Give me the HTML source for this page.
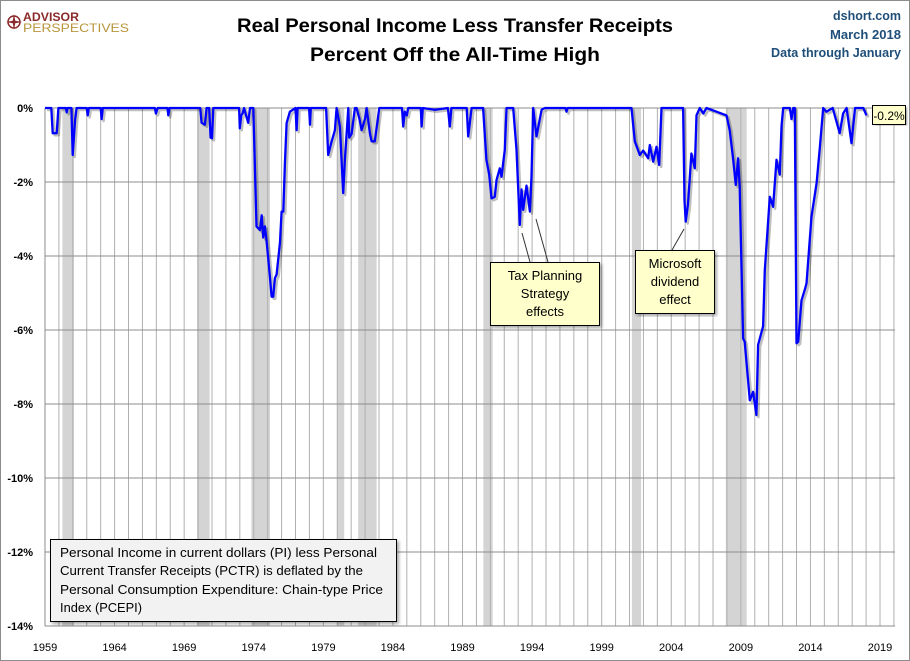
<!DOCTYPE html>
<html><head><meta charset="utf-8"><style>
body{margin:0;background:#fff;}
svg{display:block;font-family:"Liberation Sans",sans-serif;}
</style></head><body>
<svg id="chart" width="910" height="661" viewBox="0 0 910 661" xmlns="http://www.w3.org/2000/svg">
<defs>
<filter id="sh" x="-5%" y="-5%" width="110%" height="110%"><feGaussianBlur in="SourceAlpha" stdDeviation="1.5"/><feOffset dx="2" dy="2"/><feComponentTransfer><feFuncA type="linear" slope="0.35"/></feComponentTransfer><feMerge><feMergeNode/><feMergeNode in="SourceGraphic"/></feMerge></filter>
</defs>
<rect x="0.5" y="0.5" width="909" height="660" fill="#fff" stroke="#8c8c8c"/>
<g>
<circle cx="14" cy="22" r="6" fill="none" stroke="#8b2a2a" stroke-width="1.5"/>
<path d="M14 14 L15.5 22 L14 30 L12.5 22 Z M6 22 L14 20.5 L22 22 L14 23.5Z" fill="#8b2a2a"/>
<text x="23" y="21" font-size="12" font-weight="bold" fill="#8b2a2a" textLength="56" lengthAdjust="spacingAndGlyphs">ADVISOR</text>
<text x="23" y="32" font-size="12" fill="#b8963c" textLength="106" lengthAdjust="spacingAndGlyphs">PERSPECTIVES</text>
</g>
<text x="455" y="32" text-anchor="middle" font-size="19" font-weight="bold" textLength="436" lengthAdjust="spacingAndGlyphs">Real Personal Income Less Transfer Receipts</text>
<text x="455" y="61" text-anchor="middle" font-size="19" font-weight="bold" textLength="290" lengthAdjust="spacingAndGlyphs">Percent Off the All-Time High</text>
<g fill="#1f4e79" font-size="13" font-weight="bold" text-anchor="end">
<text x="901" y="20" textLength="68" lengthAdjust="spacingAndGlyphs">dshort.com</text>
<text x="901" y="39" textLength="71" lengthAdjust="spacingAndGlyphs">March 2018</text>
<text x="901" y="57" textLength="130" lengthAdjust="spacingAndGlyphs">Data through January</text>
</g>
<g id="plot"></g>
<g>
<line x1="522" y1="233" x2="530" y2="262" stroke="#333"/>
<line x1="536" y1="219" x2="548" y2="262" stroke="#333"/>
<rect x="490.5" y="262.5" width="109" height="63" fill="#ffffcc" stroke="#000" filter="url(#sh)"/>
<g font-size="13" text-anchor="middle" fill="#000">
<text x="545" y="280">Tax Planning</text><text x="545" y="298">Strategy</text><text x="545" y="316">effects</text></g>
</g>
<g>
<line x1="684" y1="229" x2="672" y2="250" stroke="#333"/>
<rect x="635.5" y="250.5" width="79" height="63" fill="#ffffcc" stroke="#000" filter="url(#sh)"/>
<g font-size="13" text-anchor="middle" fill="#000">
<text x="675" y="268">Microsoft</text><text x="675" y="286">dividend</text><text x="675" y="304">effect</text></g>
</g>
<g>
<rect x="872.5" y="105.5" width="33" height="19" fill="#ffffcc" stroke="#000" filter="url(#sh)"/>
<text x="889" y="120" font-size="12" text-anchor="middle">-0.2%</text>
</g>
<g>
<rect x="50.5" y="539.5" width="346" height="82" fill="#f2f2f2" stroke="#000" filter="url(#sh)"/>
<g font-size="12.5" fill="#000">
<text x="60" y="557" textLength="317" lengthAdjust="spacingAndGlyphs">Personal Income in current dollars  (PI) less Personal</text>
<text x="60" y="575" textLength="303" lengthAdjust="spacingAndGlyphs">Current Transfer Receipts (PCTR) is deflated by the</text>
<text x="60" y="594" textLength="323" lengthAdjust="spacingAndGlyphs">Personal Consumption Expenditure: Chain-type Price</text>
<text x="60" y="612" textLength="82" lengthAdjust="spacingAndGlyphs">Index (PCEPI)</text>
</g></g>
</svg>
<script>
const recessionStarts = [1960.25, 1969.92, 1973.83, 1980.0, 1981.5, 1990.5, 2001.17, 2007.92];
const recessionEnds = [1961.08, 1970.83, 1975.17, 1980.5, 1982.83, 1991.17, 2001.83, 2009.42];
const yTicks = [0, -2, -4, -6, -8, -10, -12, -14];
const xTickYears = [1959, 1964, 1969, 1974, 1979, 1984, 1989, 1994, 1999, 2004, 2009, 2014, 2019];
const seriesYears = [1959.0,1959.45,1959.55,1959.84,1959.96,1960.5,1960.56,1960.62,1960.9,1960.99,1961.16,1961.27,1962.0,1962.07,1962.15,1963.0,1963.07,1963.15,
1966.9,1966.97,1967.1,1967.8,1967.86,1967.95,1970.15,1970.25,1970.49,1970.61,1970.8,1970.9,1971.0,1971.09,1972.95,1973.0,1973.1,1973.2,1973.3,1973.6,1973.73,1973.97,
1974.2,1974.45,1974.57,1974.68,1974.8,1974.92,1975.16,1975.28,1975.4,1975.52,1975.64,1975.88,1976.0,1976.12,1976.24,1976.36,1976.6,1977.0,1977.08,1977.15,1977.98,1978.04,1978.1,
1979.2,1979.35,1979.6,1979.83,1979.95,1980.19,1980.43,1980.55,1980.79,1980.86,1981.03,1981.27,1981.39,1981.6,1981.75,1981.99,1982.11,1982.35,1982.47,1982.7,1982.95,1983.02,1983.19,
1984.65,1984.74,1984.85,1985.0,1985.1,1986.0,1986.06,1986.15,1987.0,1987.95,1988.09,1988.2,1989.3,1989.41,1989.65,1990.48,1990.72,1990.92,1991.08,1991.32,1991.44,1991.68,1991.8,
1992.04,1992.16,1992.64,1992.88,1993.12,1993.24,1993.36,1993.6,1993.84,1993.96,1994.08,1994.32,1994.68,1994.92,1996.4,1996.47,1996.55,2001.14,2001.38,2001.74,2001.98,2002.34,
2002.46,2002.7,2002.94,2003.13,2003.3,2004.85,2004.95,2005.04,2005.2,2005.45,2005.69,2005.81,2006.05,2006.3,2006.53,2007.25,2007.97,2008.2,2008.45,2008.64,2008.8,2008.92,
2009.16,2009.28,2009.64,2009.88,2010.12,2010.24,2010.6,2010.72,2011.08,2011.32,2011.56,2011.8,2011.92,2012.04,2012.52,2012.64,2012.76,2012.88,2013.0,2013.12,2013.36,2013.6,
2013.72,2014.08,2014.44,2014.68,2014.92,2015.15,2015.6,2016.1,2016.35,2016.6,2016.95,2017.2,2017.8,2018.03];
const seriesValues = [0,0,-0.68,-0.68,0,0,-0.12,0,0,-1.27,-0.32,0,0,-0.2,0,0,-0.3,0,
0,-0.15,0,0,-0.2,0,0,-0.4,-0.45,0,0,-0.8,-0.82,0,0,-0.55,-0.2,-0.15,0,-0.4,0,0,
-3.2,-3.3,-2.9,-3.5,-3.2,-3.6,-4.56,-5.1,-5.1,-4.6,-4.5,-3.66,-2.8,-2.8,-1.5,-0.41,-0.1,0,-0.6,0,0,-0.45,0,
0,-1.27,-0.9,-0.6,0,-0.5,-2.3,-1.4,0,-0.8,-0.7,0,0,-0.3,-0.6,-0.3,0,-0.7,-0.9,-0.9,-0.2,0,0,
0,-0.5,-0.1,-0.2,0,0,-0.5,0,-0.05,0,-0.5,0,0,-0.77,0,0,-1.4,-1.8,-2.44,-2.4,-1.95,-1.63,-1.86,
-1.13,0,0,-1.13,-3.16,-2.2,-2.75,-2.1,-2.8,-1.85,0,-0.77,-0.05,0,0,-0.1,0,0,-0.9,-1.27,-1.15,-1.36,
-1.0,-1.45,-1.05,-1.54,0,0,-2.5,-3.07,-2.6,-1.23,-1.63,-0.2,0,-0.15,0,-0.1,-0.2,-0.6,-1.4,-2.08,-1.36,-2.13,
-6.23,-6.32,-7.9,-7.67,-8.3,-6.4,-5.9,-4.38,-2.4,-2.67,-1.4,-1.8,-0.5,0,0,-0.3,0,0,-6.36,-6.32,-5.2,-4.9,
-4.74,-2.93,-2.03,-1.05,0,-0.1,0,-0.68,-0.15,0,-0.95,0,0,-0.2];

const L=45,R=895,T=108,B=626;
function xS(yr){return L+(yr-1959)*13.917;}
function yS(v){return T+(-v)*(B-T)/14;}
const NS='http://www.w3.org/2000/svg';
const plot=document.getElementById('plot');
function mk(tag,attrs,parent){const e=document.createElementNS(NS,tag);for(const k in attrs)e.setAttribute(k,attrs[k]);(parent||plot).appendChild(e);return e;}
for(let i=0;i<recessionStarts.length;i++){
  const r=mk('rect',{x:xS(recessionStarts[i]),y:T,width:xS(recessionEnds[i])-xS(recessionStarts[i]),height:B-T,fill:'#d4d4d4'});
  
  
}
for(let yr=1959;yr<=2020;yr++){
  const x=xS(yr); if(x>R)break;
  const g=mk('line',{x1:x,x2:x,y1:T,y2:B,stroke:'#b0b0b0','stroke-width':1});
  
  
}
yTicks.forEach(v=>{
  const y=yS(v);
  const g=mk('line',{x1:L,x2:R,y1:y,y2:y,stroke:'#8c8c8c','stroke-width':1});
  
  
  const t=mk('text',{x:33,y:y+4,'font-size':11,'font-weight':'bold','text-anchor':'end'});
  t.textContent=v+'%';
  
  
});
const ax=mk('line',{x1:L,x2:L,y1:T,y2:B,stroke:'#8c8c8c'});


xTickYears.forEach(yr=>{
  const t=mk('text',{x:xS(yr),y:651,'font-size':11,'text-anchor':'middle'});
  t.textContent=yr;
  
  
});
let d='';
for(let i=0;i<seriesYears.length;i++){d+=(i?'L':'M')+xS(seriesYears[i]).toFixed(1)+' '+yS(seriesValues[i]).toFixed(1);}
const shadow=mk('path',{d:d,fill:'none',stroke:'rgba(0,0,0,0.25)','stroke-width':2.5,transform:'translate(2,2)','stroke-linejoin':'round'});


const line=mk('path',{d:d,fill:'none',stroke:'#0000ff','stroke-width':2.3,'stroke-linejoin':'round'});


</script>
</body></html>
